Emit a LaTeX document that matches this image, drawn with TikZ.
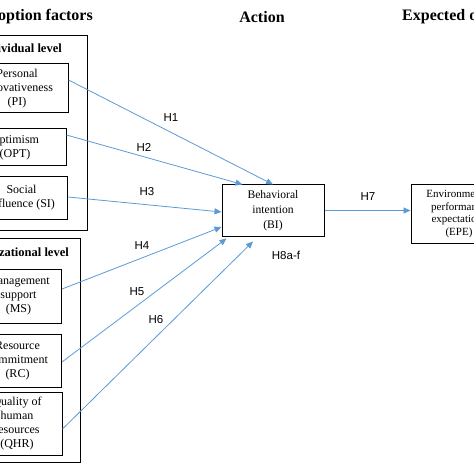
\documentclass[tikz,border=0pt]{standalone}
\usepackage{fontspec}
\setmainfont{Liberation Serif}
\newfontfamily\hfont{Liberation Sans}
\usetikzlibrary{arrows.meta,calc}
\definecolor{arrowblue}{RGB}{91,155,213}
\begin{document}
\begin{tikzpicture}[x=1bp,y=-1bp,
  box/.style={draw=black, line width=1bp, inner sep=0pt, align=center,
    font=\fontsize{12bp}{14bp}\selectfont},
  grp/.style={draw=black, line width=1bp, inner sep=0pt},
  grplabel/.style={inner sep=0pt, font=\bfseries\fontsize{12.5bp}{14bp}\selectfont},
  ttl/.style={inner sep=0pt, font=\bfseries\fontsize{16bp}{18bp}\selectfont},
  hyp/.style={inner sep=0pt, font=\hfont\fontsize{11.5bp}{13bp}\selectfont},
  arr/.style={draw=arrowblue, line width=0.8bp, -{Triangle[length=7bp,width=6bp]}}]
\useasboundingbox (0,0) rectangle (474,474);
\clip (0,0) rectangle (474,474);
\fill[white] (0,0) rectangle (474,474);
% titles
\node[ttl, anchor=east] (t1) at (93,17) {Adoption factors};
\node[ttl] (t2) at (262,17) {Action};
\node[ttl, anchor=west] (t3) at (402,17) {Expected outcomes};
% group boxes
\node[grp, minimum width=147bp, minimum height=194bp] (ind) at (13.5,133) {};
\node[grplabel, anchor=east] (indl) at (62,48) {Individual level};
\node[grp, minimum width=140bp, minimum height=223bp] (org) at (10,350.5) {};
\node[grplabel, anchor=east] (orgl) at (69,254) {Organizational level};
% factor boxes
\node[box, minimum width=102bp, minimum height=49bp] (PI) at (17,88.5) {Personal\\Innovativeness\\(PI)};
\node[box, minimum width=102bp, minimum height=37bp] (OPT) at (15,147.5) {Optimism\\(OPT)};
\node[box, minimum width=92bp, minimum height=42bp] (SI) at (21.5,198) {Social\\Influence (SI)};
\node[box, minimum width=86bp, minimum height=54bp] (MS) at (18.5,296) {Management\\support\\(MS)};
\node[box, minimum width=88bp, minimum height=53bp] (RC) at (17.5,360.5) {Resource\\commitment\\(RC)};
\node[box, minimum width=90bp, minimum height=63bp] (QHR) at (17,423.5) {Quality of\\human\\resources\\(QHR)};
% action / outcome
\node[box, minimum width=102bp, minimum height=51bp, font=\fontsize{11.6bp}{15bp}\selectfont] (BI) at (273,210.5) {Behavioral\\intention\\(BI)};
\node[box, minimum width=96bp, minimum height=58bp, font=\fontsize{11bp}{12.5bp}\selectfont] (EPE) at (459,214) {Environmental\\performance\\expectations\\(EPE)};
\coordinate (h6end) at ($(BI.south)+(-20,5)$);
% connectors
\draw[arr] ($(PI.east)+(0,-8.5)$) -- (BI.north);
\draw[arr] ($(OPT.east)+(0,-12.5)$) -- ($(BI.north west)+(21,0)$);
\draw[arr] ($(SI.east)+(0,-1)$) -- ($(BI.west)+(0,1.5)$);
\draw[arr] ($(MS.east)+(0,-7)$) -- ($(BI.west)+(0,16.5)$);
\draw[arr] ($(RC.east)+(0,1.5)$) -- ($(BI.south west)+(5,2)$);
\draw[arr] ($(QHR.east)+(0,5.5)$) -- (h6end);
\draw[arr] (BI.east) -- (BI.east -| EPE.west);
% labels
\node[hyp] (l1) at (171,118) {H1};
\node[hyp] (l2) at (144,147) {H2};
\node[hyp] (l3) at (147,192) {H3};
\node[hyp] (l4) at (142,246) {H4};
\node[hyp] (l5) at (137,292) {H5};
\node[hyp] (l6) at (156,320) {H6};
\node[hyp] (l7) at (368,197) {H7};
\node[hyp] (l8) at (286,255) {H8a-f};
\end{tikzpicture}
\end{document}
